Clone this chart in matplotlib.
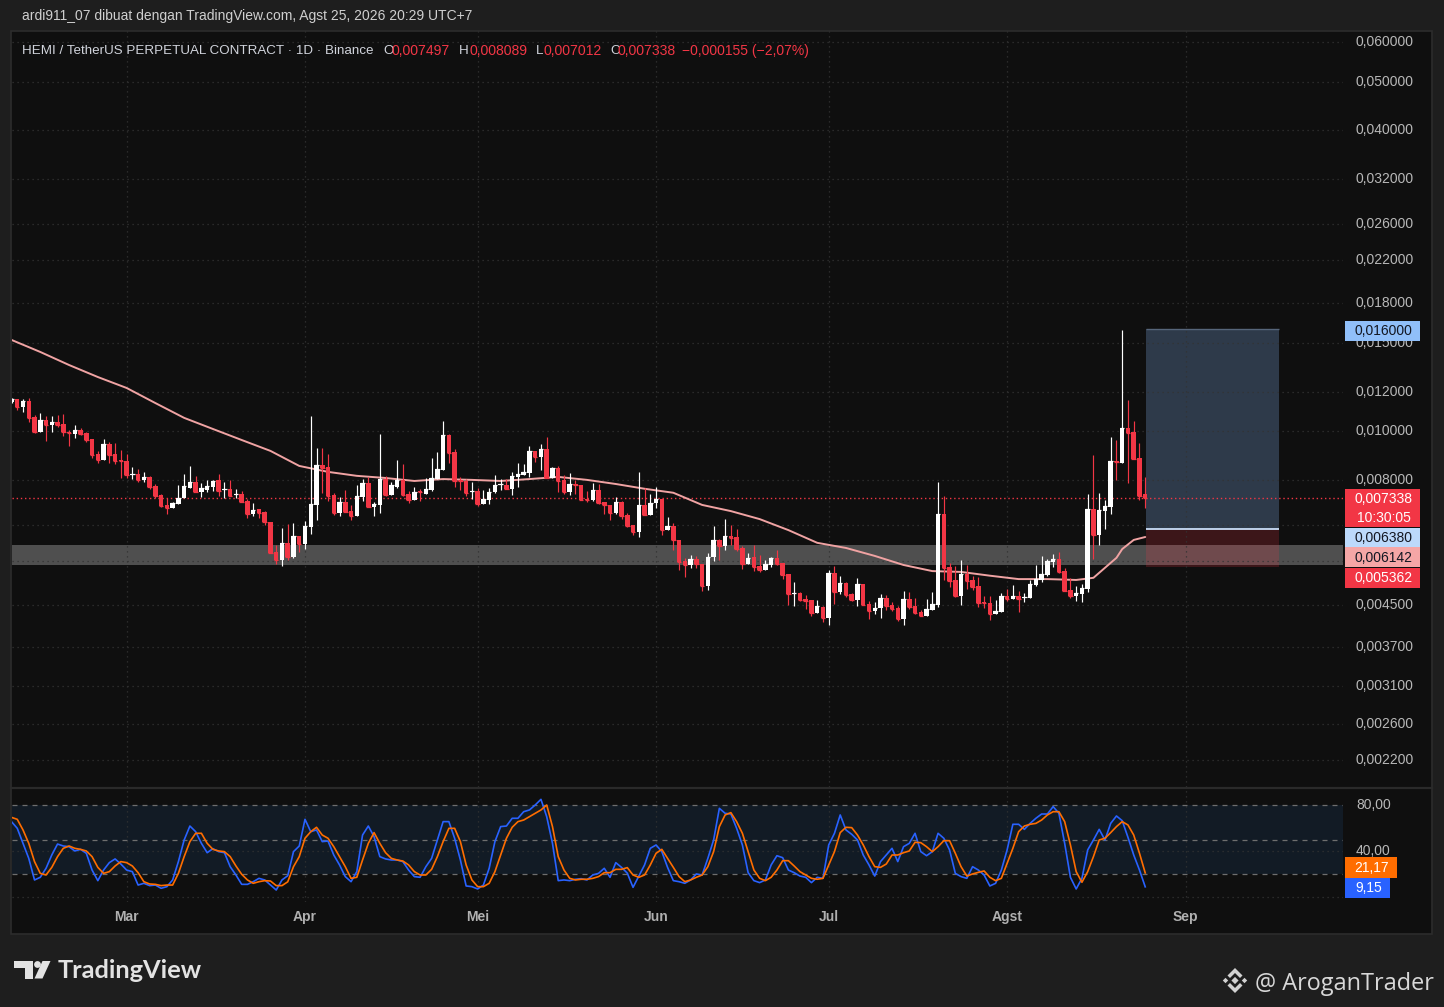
import numpy as np
import matplotlib
matplotlib.use("Agg")
import matplotlib.pyplot as plt
import matplotlib.dates as mdates
import matplotlib.transforms as mtransforms
from matplotlib.patches import Rectangle, Polygon

# ---------------------------------------------------------------- data
dates = np.arange(np.datetime64("2026-02-09"), np.datetime64("2026-08-26"), dtype="datetime64[D]")

opens = [
    0.01144, 0.01160, 0.01118, 0.01149, 0.01068, 0.00996, 0.01053, 0.01029, 0.01043, 0.01034,
    0.00996, 0.00987, 0.01005, 0.00992, 0.00965, 0.00900, 0.00876, 0.00943, 0.00900, 0.00876,
    0.00872, 0.00817, 0.00821, 0.00799, 0.00810, 0.00777, 0.00746, 0.00712, 0.00702, 0.00715,
    0.00736, 0.00770, 0.00791, 0.00756, 0.00763, 0.00774, 0.00799, 0.00763, 0.00767, 0.00746,
    0.00749, 0.00725, 0.00683, 0.00699, 0.00689, 0.00658, 0.00573, 0.00553, 0.00598, 0.00561,
    0.00617, 0.00595, 0.00643, 0.00712, 0.00856, 0.00848, 0.00746, 0.00686, 0.00722, 0.00692,
    0.00677, 0.00739, 0.00788, 0.00706, 0.00712, 0.00802, 0.00746, 0.00774, 0.00799, 0.00749,
    0.00728, 0.00760, 0.00749, 0.00763, 0.00802, 0.00836, 0.00983, 0.00909, 0.00799, 0.00795,
    0.00756, 0.00760, 0.00715, 0.00728, 0.00756, 0.00781, 0.00781, 0.00767, 0.00810, 0.00817,
    0.00825, 0.00913, 0.00888, 0.00921, 0.00806, 0.00844, 0.00799, 0.00756, 0.00784, 0.00781,
    0.00732, 0.00728, 0.00763, 0.00722, 0.00712, 0.00686, 0.00722, 0.00680, 0.00649, 0.00629,
    0.00712, 0.00680, 0.00719, 0.00732, 0.00634, 0.00646, 0.00606, 0.00550, 0.00540, 0.00555,
    0.00543, 0.00490, 0.00561, 0.00606, 0.00590, 0.00617, 0.00614, 0.00584, 0.00543, 0.00561,
    0.00538, 0.00528, 0.00540, 0.00558, 0.00545, 0.00518, 0.00473, 0.00475, 0.00462, 0.00460,
    0.00433, 0.00445, 0.00423, 0.00521, 0.00477, 0.00497, 0.00473, 0.00460, 0.00495, 0.00451,
    0.00437, 0.00443, 0.00464, 0.00449, 0.00443, 0.00421, 0.00462, 0.00447, 0.00435, 0.00427,
    0.00439, 0.00449, 0.00683, 0.00535, 0.00504, 0.00468, 0.00518, 0.00504, 0.00490, 0.00455,
    0.00453, 0.00431, 0.00435, 0.00468, 0.00462, 0.00468, 0.00464, 0.00464, 0.00493, 0.00504,
    0.00516, 0.00548, 0.00555, 0.00525, 0.00481, 0.00468, 0.00473, 0.00484, 0.00699, 0.00620,
    0.00692, 0.00706, 0.00872, 0.00864, 0.01015, 0.00996, 0.00884, 0.007497,
]
highs = [
    0.01165, 0.01160, 0.01160, 0.01165, 0.01078, 0.01088, 0.01073, 0.01073, 0.01078, 0.01083,
    0.01005, 0.01029, 0.01015, 0.00996, 0.00965, 0.00913, 0.00965, 0.00952, 0.00947, 0.00917,
    0.00900, 0.00848, 0.00840, 0.00829, 0.00814, 0.00784, 0.00749, 0.00736, 0.00722, 0.00781,
    0.00821, 0.00852, 0.00814, 0.00788, 0.00799, 0.00799, 0.00821, 0.00791, 0.00799, 0.00767,
    0.00760, 0.00732, 0.00719, 0.00699, 0.00692, 0.00658, 0.00592, 0.00640, 0.00652, 0.00655,
    0.00617, 0.00661, 0.01073, 0.00926, 0.00926, 0.00900, 0.00753, 0.00739, 0.00763, 0.00712,
    0.00781, 0.00802, 0.00810, 0.00722, 0.00987, 0.00814, 0.00791, 0.00876, 0.00860, 0.00760,
    0.00774, 0.00767, 0.00806, 0.00884, 0.00909, 0.01048, 0.00987, 0.00921, 0.00810, 0.00802,
    0.00791, 0.00770, 0.00763, 0.00770, 0.00817, 0.00802, 0.00802, 0.00829, 0.00864, 0.00860,
    0.00934, 0.00913, 0.00943, 0.00974, 0.00848, 0.00852, 0.00817, 0.00825, 0.00799, 0.00781,
    0.00760, 0.00788, 0.00784, 0.00722, 0.00712, 0.00739, 0.00725, 0.00686, 0.00649, 0.00829,
    0.00770, 0.00749, 0.00774, 0.00732, 0.00674, 0.00655, 0.00606, 0.00558, 0.00566, 0.00563,
    0.00543, 0.00571, 0.00646, 0.00609, 0.00667, 0.00649, 0.00637, 0.00590, 0.00571, 0.00592,
    0.00566, 0.00553, 0.00561, 0.00579, 0.00545, 0.00518, 0.00499, 0.00477, 0.00471, 0.00460,
    0.00460, 0.00447, 0.00528, 0.00538, 0.00514, 0.00499, 0.00475, 0.00509, 0.00495, 0.00457,
    0.00455, 0.00473, 0.00471, 0.00455, 0.00447, 0.00479, 0.00477, 0.00464, 0.00439, 0.00462,
    0.00477, 0.00791, 0.00743, 0.00545, 0.00538, 0.00553, 0.00540, 0.00514, 0.00511, 0.00468,
    0.00468, 0.00460, 0.00475, 0.00484, 0.00493, 0.00479, 0.00475, 0.00504, 0.00540, 0.00563,
    0.00555, 0.00568, 0.00573, 0.00533, 0.00509, 0.00490, 0.00495, 0.00749, 0.00896, 0.00753,
    0.00728, 0.00974, 0.00960, 0.01595, 0.01154, 0.01048, 0.00947, 0.008089,
]
lows = [
    0.01138, 0.01102, 0.01093, 0.01043, 0.00992, 0.00996, 0.00956, 0.00996, 0.01020, 0.00978,
    0.00934, 0.00969, 0.00983, 0.00952, 0.00884, 0.00864, 0.00876, 0.00864, 0.00860, 0.00806,
    0.00806, 0.00802, 0.00791, 0.00791, 0.00767, 0.00736, 0.00706, 0.00683, 0.00702, 0.00715,
    0.00736, 0.00770, 0.00756, 0.00739, 0.00756, 0.00760, 0.00743, 0.00736, 0.00743, 0.00736,
    0.00722, 0.00671, 0.00677, 0.00671, 0.00649, 0.00571, 0.00543, 0.00538, 0.00553, 0.00558,
    0.00573, 0.00581, 0.00623, 0.00664, 0.00753, 0.00725, 0.00680, 0.00677, 0.00689, 0.00664,
    0.00677, 0.00725, 0.00706, 0.00677, 0.00686, 0.00743, 0.00746, 0.00770, 0.00743, 0.00719,
    0.00728, 0.00725, 0.00749, 0.00760, 0.00802, 0.00836, 0.00864, 0.00774, 0.00763, 0.00743,
    0.00732, 0.00709, 0.00715, 0.00715, 0.00753, 0.00763, 0.00767, 0.00746, 0.00774, 0.00817,
    0.00810, 0.00868, 0.00836, 0.00806, 0.00806, 0.00756, 0.00749, 0.00746, 0.00749, 0.00728,
    0.00722, 0.00725, 0.00715, 0.00683, 0.00664, 0.00683, 0.00667, 0.00643, 0.00620, 0.00614,
    0.00680, 0.00680, 0.00702, 0.00620, 0.00634, 0.00579, 0.00528, 0.00511, 0.00533, 0.00533,
    0.00479, 0.00481, 0.00550, 0.00553, 0.00579, 0.00592, 0.00576, 0.00530, 0.00543, 0.00525,
    0.00523, 0.00528, 0.00535, 0.00540, 0.00506, 0.00449, 0.00447, 0.00457, 0.00441, 0.00427,
    0.00433, 0.00415, 0.00410, 0.00451, 0.00473, 0.00466, 0.00457, 0.00447, 0.00449, 0.00421,
    0.00431, 0.00423, 0.00439, 0.00437, 0.00417, 0.00410, 0.00441, 0.00431, 0.00427, 0.00427,
    0.00439, 0.00445, 0.00504, 0.00488, 0.00466, 0.00449, 0.00484, 0.00481, 0.00445, 0.00443,
    0.00419, 0.00431, 0.00435, 0.00457, 0.00462, 0.00435, 0.00455, 0.00464, 0.00490, 0.00499,
    0.00514, 0.00535, 0.00521, 0.00479, 0.00464, 0.00457, 0.00455, 0.00477, 0.00555, 0.00592,
    0.00637, 0.00683, 0.00799, 0.00864, 0.00788, 0.00880, 0.00728, 0.007012,
]
closes = [
    0.01160, 0.01118, 0.01149, 0.01063, 0.00996, 0.01053, 0.01029, 0.01043, 0.01029, 0.00996,
    0.00992, 0.01005, 0.00987, 0.00960, 0.00896, 0.00876, 0.00943, 0.00896, 0.00872, 0.00872,
    0.00817, 0.00821, 0.00799, 0.00810, 0.00774, 0.00743, 0.00709, 0.00702, 0.00719, 0.00736,
    0.00777, 0.00791, 0.00756, 0.00770, 0.00777, 0.00795, 0.00760, 0.00767, 0.00743, 0.00749,
    0.00722, 0.00683, 0.00696, 0.00686, 0.00658, 0.00571, 0.00553, 0.00598, 0.00561, 0.00617,
    0.00595, 0.00646, 0.00715, 0.00856, 0.00844, 0.00743, 0.00686, 0.00722, 0.00689, 0.00677,
    0.00743, 0.00788, 0.00706, 0.00715, 0.00802, 0.00746, 0.00781, 0.00799, 0.00746, 0.00728,
    0.00756, 0.00756, 0.00767, 0.00806, 0.00840, 0.00983, 0.00905, 0.00795, 0.00795, 0.00753,
    0.00760, 0.00715, 0.00732, 0.00756, 0.00781, 0.00784, 0.00767, 0.00814, 0.00821, 0.00829,
    0.00913, 0.00888, 0.00921, 0.00806, 0.00844, 0.00795, 0.00756, 0.00784, 0.00781, 0.00728,
    0.00728, 0.00763, 0.00719, 0.00712, 0.00686, 0.00722, 0.00677, 0.00646, 0.00629, 0.00712,
    0.00680, 0.00719, 0.00732, 0.00634, 0.00646, 0.00606, 0.00548, 0.00540, 0.00555, 0.00543,
    0.00490, 0.00561, 0.00606, 0.00590, 0.00617, 0.00612, 0.00581, 0.00543, 0.00558, 0.00535,
    0.00528, 0.00543, 0.00558, 0.00543, 0.00516, 0.00473, 0.00475, 0.00460, 0.00457, 0.00433,
    0.00447, 0.00423, 0.00521, 0.00477, 0.00497, 0.00471, 0.00460, 0.00495, 0.00449, 0.00437,
    0.00443, 0.00464, 0.00447, 0.00441, 0.00421, 0.00462, 0.00445, 0.00433, 0.00427, 0.00441,
    0.00451, 0.00683, 0.00533, 0.00502, 0.00468, 0.00518, 0.00502, 0.00488, 0.00453, 0.00453,
    0.00431, 0.00437, 0.00468, 0.00462, 0.00468, 0.00462, 0.00466, 0.00495, 0.00506, 0.00518,
    0.00550, 0.00555, 0.00523, 0.00479, 0.00468, 0.00475, 0.00486, 0.00699, 0.00620, 0.00696,
    0.00709, 0.00872, 0.00868, 0.01015, 0.00992, 0.00880, 0.00743, 0.007338,
]

# moving average read at these candle positions (day offsets from first candle)
ma_day = [0, 5, 10, 15, 20, 25, 30, 35, 40, 45, 50, 55, 60, 65, 70, 75, 80, 85, 90, 95,
          100, 105, 110, 115, 120, 125, 130, 135, 140, 145, 150, 155, 160, 165, 170, 175,
          180, 185, 188, 190, 192, 193, 195, 197]
ma_values = [0.01522, 0.01440, 0.01356, 0.01283, 0.01220, 0.01138, 0.01063, 0.01010, 0.00960,
             0.00913, 0.00852, 0.00829, 0.00814, 0.00806, 0.00795, 0.00802, 0.00799, 0.00795,
             0.00802, 0.00810, 0.00799, 0.00784, 0.00767, 0.00753, 0.00712, 0.00692, 0.00667,
             0.00634, 0.00598, 0.00584, 0.00563, 0.00540, 0.00525, 0.00523, 0.00514, 0.00506,
             0.00506, 0.00504, 0.00509, 0.00533, 0.00558, 0.00581, 0.00606, 0.006142]

stoch_k = [
    65.6, 59.8, 46.8, 33.8, 15.1, 17.4, 25.2, 36.7, 46.2, 44.5,
    43.9, 40.2, 41.6, 38.2, 23.7, 14.5, 23.7, 30.1, 33.3, 28.9,
    23.7, 22.3, 10.7, 12.2, 10.2, 10.7, 7.9, 9.3, 15.1, 31.0,
    49.7, 61.8, 56.9, 46.8, 38.7, 42.2, 39.6, 38.7, 26.6, 19.4,
    11.3, 11.3, 13.6, 16.5, 15.1, 10.7, 6.4, 15.1, 18.8, 39.6,
    44.5, 67.6, 56.9, 58.4, 48.3, 48.8, 36.7, 28.1, 18.0, 13.6,
    22.3, 54.0, 61.8, 52.6, 35.3, 33.3, 32.4, 32.4, 31.0, 23.7,
    18.0, 17.4, 26.6, 33.8, 49.7, 65.6, 65.6, 51.2, 32.4, 9.9,
    9.3, 7.3, 10.7, 25.2, 48.3, 61.3, 61.8, 68.5, 68.5, 74.2,
    75.7, 80.0, 84.9, 69.9, 46.8, 14.5, 15.1, 14.5, 15.7, 16.2,
    15.1, 19.4, 20.8, 25.2, 17.4, 30.1, 26.0, 21.0, 8.7, 18.5,
    28.1, 42.5, 45.4, 39.6, 26.0, 14.5, 13.6, 12.2, 15.1, 20.3,
    19.4, 33.8, 49.7, 77.1, 72.8, 72.2, 59.8, 45.4, 21.4, 14.5,
    12.8, 15.1, 28.1, 36.1, 34.4, 23.7, 21.4, 18.5, 17.4, 12.8,
    17.4, 16.5, 45.4, 55.5, 71.4, 58.4, 54.6, 49.7, 36.7, 28.1,
    18.5, 31.0, 36.7, 42.5, 31.0, 43.9, 46.8, 55.5, 39.6, 36.1,
    39.6, 55.5, 51.2, 41.1, 20.8, 18.0, 16.5, 26.6, 23.7, 19.4,
    9.9, 12.2, 23.7, 41.1, 63.3, 63.3, 58.9, 64.1, 68.5, 72.2,
    72.2, 78.6, 72.8, 46.8, 17.4, 7.3, 16.5, 41.1, 49.7, 58.9,
    49.7, 64.1, 70.5, 66.4, 52.0, 36.7, 23.7, 9.15,
]
stoch_d = [
    69.3, 67.6, 58.4, 46.8, 31.0, 20.8, 19.4, 26.0, 35.3, 42.5,
    44.5, 42.5, 41.6, 40.2, 35.3, 26.0, 20.8, 22.3, 27.2, 31.0,
    30.1, 27.2, 21.4, 13.6, 11.6, 11.3, 10.2, 10.7, 10.7, 20.8,
    35.3, 48.3, 55.5, 55.5, 46.8, 41.6, 40.2, 39.6, 35.3, 27.2,
    20.0, 15.1, 12.2, 13.6, 14.5, 14.2, 10.2, 10.2, 13.5, 26.6,
    35.3, 51.2, 56.9, 60.7, 54.0, 51.2, 43.9, 35.3, 26.6, 16.5,
    17.4, 32.4, 46.8, 56.1, 46.8, 38.7, 33.8, 32.4, 31.5, 28.1,
    22.3, 19.4, 19.4, 24.3, 35.3, 48.3, 59.8, 59.8, 48.3, 28.1,
    15.1, 9.3, 9.3, 12.2, 22.3, 36.7, 51.2, 60.7, 65.6, 67.0,
    69.9, 72.8, 75.7, 80.0, 61.3, 35.3, 23.7, 16.5, 15.1, 15.7,
    15.7, 16.5, 18.0, 21.4, 21.4, 24.3, 24.3, 25.8, 19.4, 17.4,
    19.4, 28.1, 38.2, 41.6, 33.8, 26.0, 18.0, 13.6, 15.1, 17.4,
    19.4, 26.6, 39.6, 61.3, 71.4, 73.4, 65.6, 55.5, 39.6, 23.7,
    16.5, 14.5, 17.4, 23.7, 31.8, 31.8, 27.2, 22.3, 19.4, 16.5,
    15.7, 16.5, 28.1, 39.6, 56.1, 60.7, 60.4, 54.0, 45.4, 35.3,
    26.6, 26.0, 28.9, 36.7, 36.7, 38.7, 40.2, 47.7, 47.4, 43.9,
    39.6, 43.9, 49.1, 49.1, 38.2, 26.6, 18.5, 20.3, 21.7, 22.9,
    17.4, 14.5, 16.5, 29.5, 42.5, 56.9, 61.8, 63.3, 64.1, 67.0,
    71.4, 74.2, 74.2, 65.6, 45.4, 22.3, 13.1, 22.3, 35.3, 49.7,
    51.2, 56.1, 61.3, 65.6, 62.7, 54.0, 38.2, 21.17,
]

month_starts = ["2026-03-01", "2026-04-01", "2026-05-01", "2026-06-01",
                "2026-07-01", "2026-08-01", "2026-09-01"]
month_labels = ["Mar", "Apr", "Mei", "Jun", "Jul", "Agst", "Sep"]
price_ticks = [0.060, 0.050, 0.040, 0.032, 0.026, 0.022, 0.018, 0.015, 0.012, 0.010,
               0.008, 0.0065, 0.0055, 0.0045, 0.0037, 0.0031, 0.0026, 0.0022]
hidden_price_labels = [0.0065, 0.0055]   # fully covered by the marker boxes in the reference
stoch_levels = [80, 50, 20]
stoch_tick_labels = [80, 40]

zone_low, zone_high = 0.00540, 0.00592
pos_target, pos_entry, pos_stop = 0.016000, 0.006380, 0.005362
pos_from, pos_to = "2026-08-25", "2026-09-17"
last_price = 0.007338
ma_last = 0.006142
k_last, d_last = 9.15, 21.17
countdown = "10:30:05"

header = "ardi911_07 dibuat dengan TradingView.com, Agst 25, 2026 20:29 UTC+7"
symbol = "HEMI / TetherUS PERPETUAL CONTRACT \u00b7 1D \u00b7 Binance"
ohlc_last = [("O", 0.007497), ("H", 0.008089), ("L", 0.007012), ("C", 0.007338)]
change_text = "\u22120,000155 (\u22122,07%)"

# ---------------------------------------------------------------- styling
W, H = 1444, 1007
BG_OUT = "#1e1e1e"
BG = "#0f0f0f"
UP = "#ffffff"
DOWN = "#f23645"
GRID = "#333333"
TXT = "#b8b8b8"
SANS = ["Liberation Sans", "DejaVu Sans"]
NARROW = ["Liberation Sans Narrow", "Liberation Sans", "DejaVu Sans"]

def fmt_price(v):
    return f"{v:.6f}".replace(".", ",")

def fmt2(v):
    return f"{v:.2f}".replace(".", ",")

fig = plt.figure(figsize=(W / 100, H / 100), dpi=100, facecolor=BG_OUT)
renderer = fig.canvas.get_renderer()

def fit(t, width):
    bb = t.get_window_extent(renderer=renderer)
    if bb.width > 0:
        t.set_fontsize(t.get_fontsize() * width / bb.width)
    return t

# background layer (pixel coordinates)
bg = fig.add_axes([0, 0, 1, 1], zorder=0)
bg.set_xlim(0, W); bg.set_ylim(H, 0); bg.axis("off")
bg.add_patch(Rectangle((11, 31), 1421, 903, facecolor=BG, edgecolor="#2c2c2c", lw=1.2))
bg.plot([11, 1432], [788, 788], color="#2a2a2a", lw=1.6)

# day -> x mapping
xd = mdates.date2num(dates)
d0 = xd[0]
PX_DAY = 5.755
X0PX = 11.5
xlim = (d0 + (12 - X0PX) / PX_DAY, d0 + (1343 - X0PX) / PX_DAY)

def fx(px):  # figure fraction
    return px / W

def fy(py):
    return 1 - py / H

# ---------------------------------------------------------------- main price pane
ax = fig.add_axes([fx(12), fy(787), fx(1343) - fx(12), fy(31) - fy(787)], zorder=2)
ax.set_facecolor("none")
ax.set_yscale("log")
ax.set_xlim(*xlim)
ax.set_ylim(0.0019427, 0.063118)
for s in ax.spines.values():
    s.set_visible(False)
ax.set_xticks([]); ax.set_yticks([]); ax.minorticks_off()
ax.yaxis.set_minor_locator(matplotlib.ticker.NullLocator())

o = np.array(opens); h = np.array(highs); l = np.array(lows); c = np.array(closes)
cols = np.where(c >= o, UP, DOWN)

# grey zone
ax.axhspan(zone_low, zone_high, facecolor="#4f4f4f", edgecolor="none", zorder=1)

# position tool
x_from = mdates.date2num(np.datetime64(pos_from)) + 0.15
x_to = mdates.date2num(np.datetime64(pos_to)) + 0.25
ax.add_patch(Rectangle((x_from, pos_entry), x_to - x_from, pos_target - pos_entry,
                       facecolor="#2e3a4a", edgecolor="none", zorder=2))
ax.add_patch(Rectangle((x_from, pos_stop), x_to - x_from, pos_entry - pos_stop,
                       facecolor="#f23645", alpha=0.2, edgecolor="none", zorder=2))
ax.hlines(pos_target, x_from, x_to, color="#56657a", lw=1.0, zorder=2.5)
ax.hlines(pos_entry, x_from, x_to, color="#c9ddf7", lw=1.3, zorder=3.5)

# grid
for p in price_ticks:
    ax.axhline(p, color=GRID, lw=0.9, ls=(0, (1, 3)), zorder=3)
month_x = [mdates.date2num(np.datetime64(m)) for m in month_starts]
for mx in month_x:
    ax.axvline(mx, color=GRID, lw=0.9, ls=(0, (1, 3)), zorder=3)

# last price line
ax.axhline(last_price, color=DOWN, lw=1.0, ls=(0, (1, 2)), zorder=4)

# MA
ax.plot(xd[ma_day], ma_values, color="#f0a3a3", lw=1.4, zorder=4, solid_capstyle="round")

# candles
ax.vlines(xd, l, h, colors=cols, lw=0.85, zorder=5)
ax.bar(xd, np.abs(c - o), bottom=np.minimum(o, c), width=0.78, color=cols, lw=0, zorder=6)
ax.hlines(c, xd - 0.39, xd + 0.39, colors=cols, lw=0.9, zorder=6)

# ---------------------------------------------------------------- stoch RSI pane
ax2 = fig.add_axes([fx(12), fy(902), fx(1343) - fx(12), fy(789) - fy(902)], zorder=2)
ax2.set_facecolor("none")
ax2.set_xlim(*xlim)
ax2.set_ylim(-3.98, 93.85)
for s in ax2.spines.values():
    s.set_visible(False)
ax2.set_xticks([]); ax2.set_yticks([])
ax2.axhspan(20, 80, facecolor="#121b25", edgecolor="none", zorder=1)
for lv in [40, 0]:
    ax2.axhline(lv, color=GRID, lw=0.9, ls=(0, (1, 3)), zorder=2)
for mx in month_x:
    ax2.axvline(mx, color=GRID, lw=0.9, ls=(0, (1, 3)), zorder=2)
for lv in stoch_levels:
    ax2.axhline(lv, color="#6e6e6e", lw=0.9, ls=(0, (4, 4)), zorder=3)
ax2.plot(xd, stoch_k, color="#2962ff", lw=1.2, zorder=4)
ax2.plot(xd, stoch_d, color="#ff6d00", lw=1.2, zorder=5)

# ---------------------------------------------------------------- overlay texts
top = fig.add_axes([0, 0, 1, 1], zorder=10)
top.set_xlim(0, W); top.set_ylim(H, 0); top.axis("off")
top.patch.set_alpha(0)

tr_price = mtransforms.blended_transform_factory(top.transData, ax.transData)
tr_stoch = mtransforms.blended_transform_factory(top.transData, ax2.transData)
tr_time = mtransforms.blended_transform_factory(ax.transData, top.transData)

for p in price_ticks:
    if p in hidden_price_labels:
        continue
    top.text(1356, p, fmt_price(p), transform=tr_price, color=TXT, fontsize=10,
             family=SANS, va="center", ha="left", zorder=2)
for lv in stoch_tick_labels:
    top.text(1356, lv, fmt2(lv), transform=tr_stoch, color=TXT, fontsize=10,
             family=SANS, va="center", ha="left", zorder=2)
for mx, lab in zip(month_x, month_labels):
    top.text(mx, 917, lab, transform=tr_time, color="#b0b0b0", fontsize=10,
             family=SANS, fontweight="bold", va="center", ha="center", zorder=2)

def label_box(y0, y1, fc, lines, tc, x1=1420):
    top.add_patch(Rectangle((1345, y0), x1 - 1345, y1 - y0, facecolor=fc, edgecolor="none",
                            zorder=5))
    n = len(lines)
    for i, s in enumerate(lines):
        yy = y0 + (y1 - y0) * (i + 0.5) / n + 0.5
        top.text(1345 + (x1 - 1345) / 2 + 1, yy, s, color=tc, fontsize=10, family=SANS,
                 va="center", ha="center", zorder=6)

label_box(320.5, 340.5, "#90bff9", [fmt_price(pos_target)], "#131722")
label_box(489, 526.5, DOWN, [fmt_price(last_price), countdown], "#ffffff")
label_box(527.5, 546.5, "#bcd9fb", [fmt_price(pos_entry)], "#131722")
label_box(547, 567, "#f5a6a6", [fmt_price(ma_last)], "#131722")
label_box(567.5, 587.5, DOWN, [fmt_price(pos_stop)], "#ffffff")
label_box(857, 878, "#ff6d00", [fmt2(d_last)], "#ffffff", x1=1397)
label_box(878, 898, "#2962ff", [fmt2(k_last)], "#ffffff", x1=1390)

# header
t = top.text(22, 16, header, color="#cfcfcf", fontsize=10, family=NARROW, va="center", ha="left")
fit(t, 452)
t = top.text(22, 51, symbol, color="#d1d4dc", fontsize=10, family=NARROW, va="center", ha="left")
fit(t, 351)
leg_fs = t.get_fontsize()
letter_x = [383.5, 459, 536, 610]
value_x = [391.7, 469, 543.4, 617.7]
for (lab, val), lx, vx in zip(ohlc_last, letter_x, value_x):
    top.text(lx, 51, lab, color="#d1d4dc", fontsize=leg_fs, family=NARROW, va="center", ha="left")
    tv = top.text(vx, 51, fmt_price(val), color=DOWN, fontsize=leg_fs, family=NARROW,
                  va="center", ha="left")
    fit(tv, 58)
tc = top.text(682.5, 51, change_text, color=DOWN, fontsize=leg_fs, family=NARROW,
              va="center", ha="left")
fit(tc, 126.5)

# TradingView logo
LOGO = "#e3e3e3"
top.add_patch(Polygon([(14, 961), (33, 961), (33, 978.5), (25, 978.5), (25, 968), (14, 968)],
                      closed=True, facecolor=LOGO, edgecolor="none"))
top.add_patch(matplotlib.patches.Circle((37.5, 964.5), 3.4, facecolor=LOGO, edgecolor="none"))
top.add_patch(Polygon([(42.5, 961), (50.5, 961), (42.5, 978.5), (34.5, 978.5)],
                      closed=True, facecolor=LOGO, edgecolor="none"))
t = top.text(58, 978.5, "TradingView", color=LOGO, fontsize=17, fontweight="bold",
             family=["Lato", "Inter", "DejaVu Sans"], va="baseline", ha="left")
fit(t, 145)

# Binance mark + watermark
BN = "#d2d2d2"
cx, cy = 1235, 980.5
def diamond(x, y, r):
    return Polygon([(x, y - r), (x + r, y), (x, y + r), (x - r, y)], closed=True,
                   facecolor=BN, edgecolor="none")
top.add_patch(diamond(cx, cy, 3.6))
top.add_patch(diamond(cx - 9.5, cy, 2.7))
top.add_patch(diamond(cx + 9.5, cy, 2.7))
top.add_patch(Polygon([(cx, cy - 12.5), (cx + 7.5, cy - 5), (cx + 5, cy - 2.5), (cx, cy - 7.5),
                       (cx - 5, cy - 2.5), (cx - 7.5, cy - 5)], closed=True, facecolor=BN,
                      edgecolor="none"))
top.add_patch(Polygon([(cx, cy + 12.5), (cx + 7.5, cy + 5), (cx + 5, cy + 2.5), (cx, cy + 7.5),
                       (cx - 5, cy + 2.5), (cx - 7.5, cy + 5)], closed=True, facecolor=BN,
                      edgecolor="none"))
t = top.text(1255, 989.5, "@ AroganTrader", color="#d8d8d8", fontsize=17,
             family=["Open Sans", "Noto Sans", "DejaVu Sans"], va="baseline", ha="left")
fit(t, 180)

fig.savefig("out.png", dpi=100, facecolor=fig.get_facecolor())
